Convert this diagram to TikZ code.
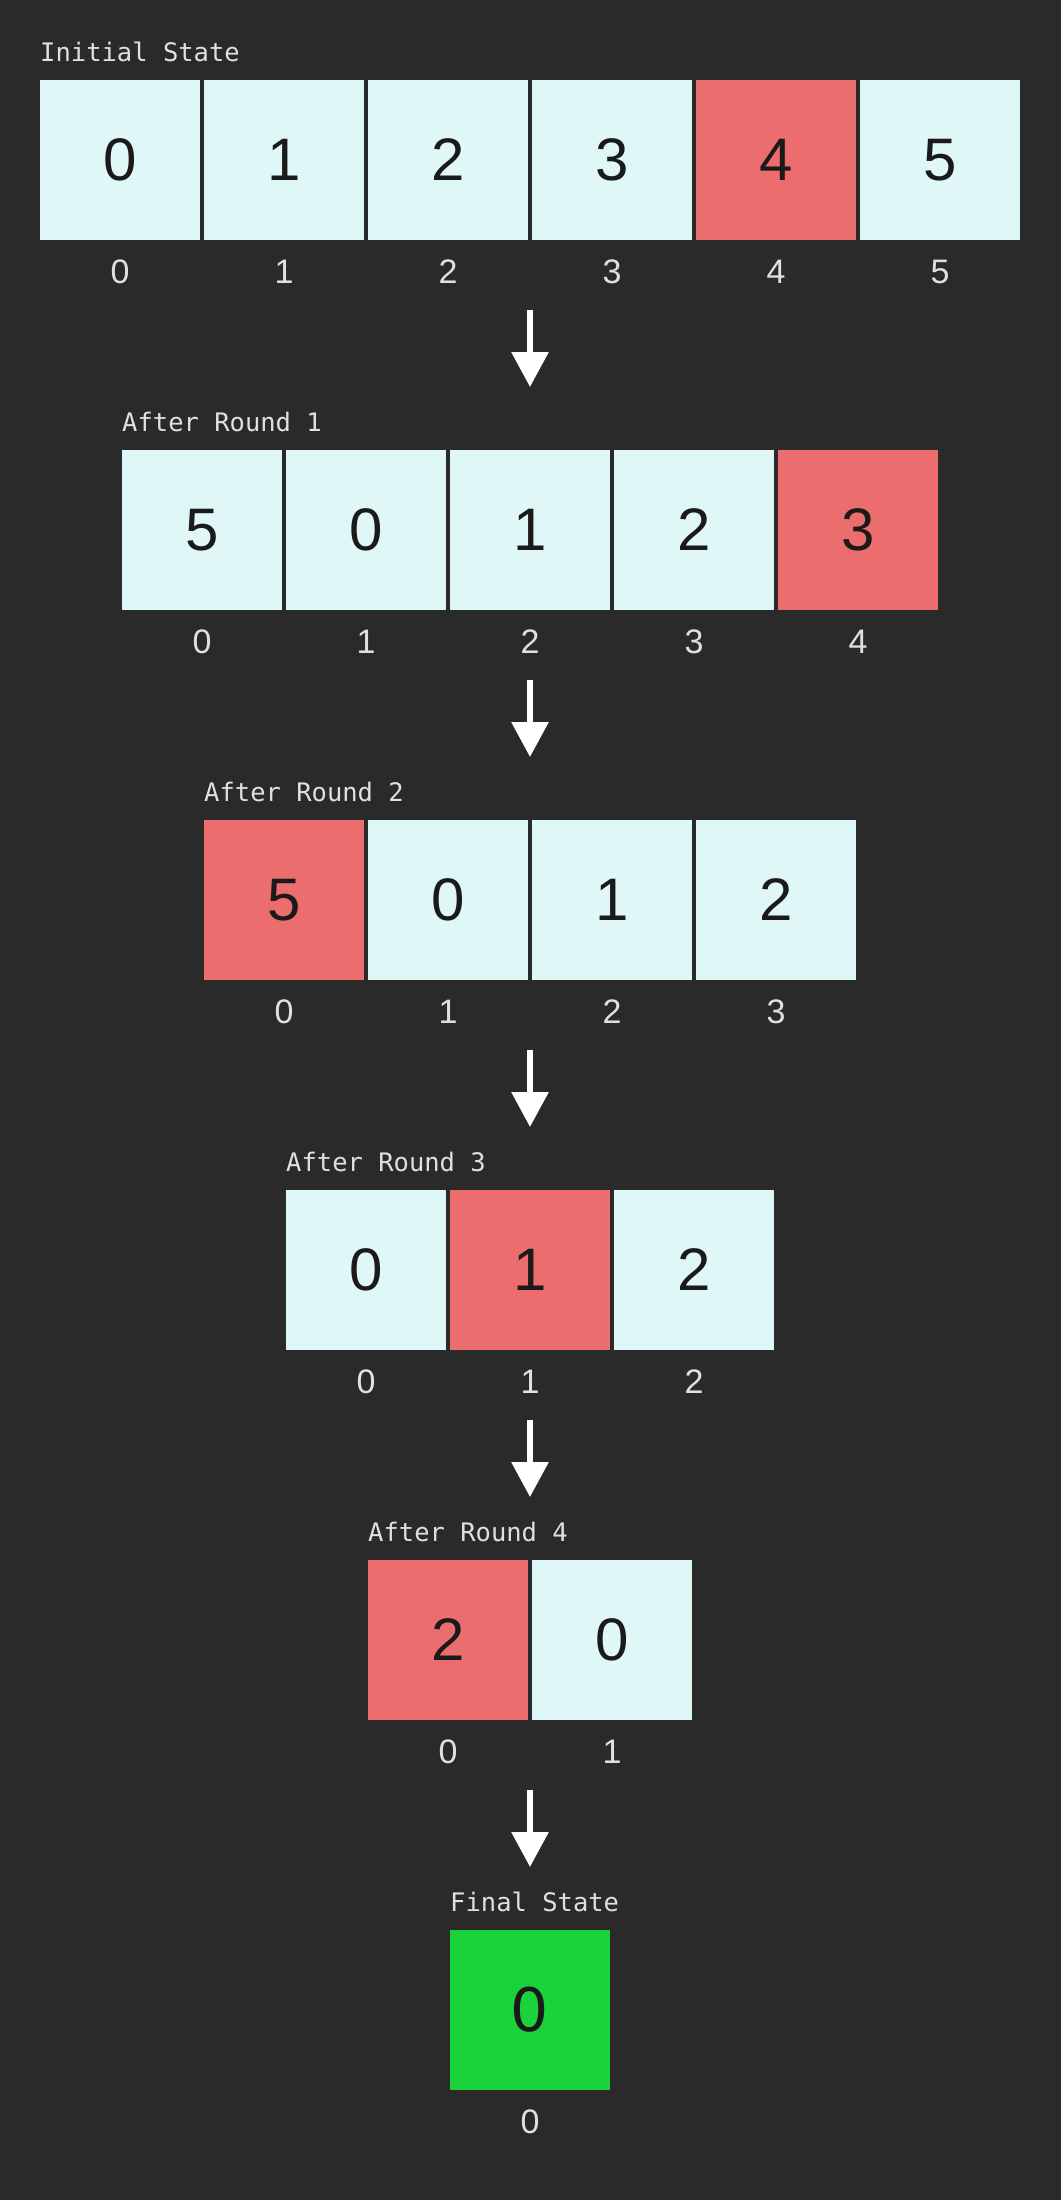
\documentclass[tikz,border=0pt]{standalone}
\usepackage{fontspec}
\setmainfont{Liberation Sans}
\newfontfamily\titlefont{DejaVu Sans Mono}
\newfontfamily\finalfont{DejaVu Sans}
\usetikzlibrary{arrows.meta}
\usetikzlibrary{calc}

\definecolor{bgdark}{HTML}{2A2A2A}
\definecolor{cellfill}{HTML}{E0F7F8}
\definecolor{hlred}{HTML}{EB6D6D}
\definecolor{donegreen}{HTML}{1BD23B}
\definecolor{idxgray}{HTML}{E0E0E0}
\definecolor{digitink}{HTML}{1A1A1A}

\tikzset{
  cell/.style={minimum width=160pt, minimum height=160pt, inner sep=0pt,
    fill=cellfill, text=digitink, font=\fontsize{60}{70}\selectfont},
  idx/.style={text=idxgray, inner sep=0pt, font=\fontsize{34}{40}\selectfont},
  rowtitle/.style={anchor=west, inner sep=0pt, text=idxgray,
    font=\titlefont\fontsize{25.5}{30}\selectfont},
  flow/.style={draw=white, line width=6pt, -{Triangle[width=36pt,length=35pt]}},
}

\begin{document}
\begin{tikzpicture}[x=1pt,y=-1pt]
  \useasboundingbox (0,0) rectangle (1060,2200);
  \fill[bgdark] (-10,-10) rectangle (1070,2210);

  % rows: cell count / title / values / red cell
  \foreach \n/\rname/\vals/\hl [count=\r from 0] in {
      6/{Initial State}/{0,1,2,3,4,5}/4,
      5/{After Round 1}/{5,0,1,2,3}/4,
      4/{After Round 2}/{5,0,1,2}/0,
      3/{After Round 3}/{0,1,2}/1,
      2/{After Round 4}/{2,0}/0} {
      \pgfmathsetmacro{\ytop}{80+370*\r}
      \pgfmathsetmacro{\xs}{532-82*\n}
      \node[rowtitle] (t\r) at (\xs,\ytop-28) {\rname};
      \foreach \v [count=\i from 0] in \vals {
          \ifnum\i=\hl\def\cc{hlred}\else\def\cc{cellfill}\fi
          \node[cell, fill=\cc] (c\r-\i) at (\xs+164*\i+80,\ytop+80) {\v};
          \node[idx] (i\r-\i) at (\xs+164*\i+80,\ytop+192) {\i};
        }
      \coordinate (s\r) at (530,\ytop+230);
      \coordinate (e\r) at (530,\ytop+307);
      \draw[flow] (s\r) -- (e\r);
    }

  % final state
  \node[rowtitle] (t5) at (450,1902) {Final State};
  \node[cell, fill=donegreen, font=\finalfont\fontsize{60}{70}\selectfont] (c5-0) at (530,2010) {0};
  \node[idx] (i5-0) at (530,2122) {0};
\end{tikzpicture}
\end{document}
